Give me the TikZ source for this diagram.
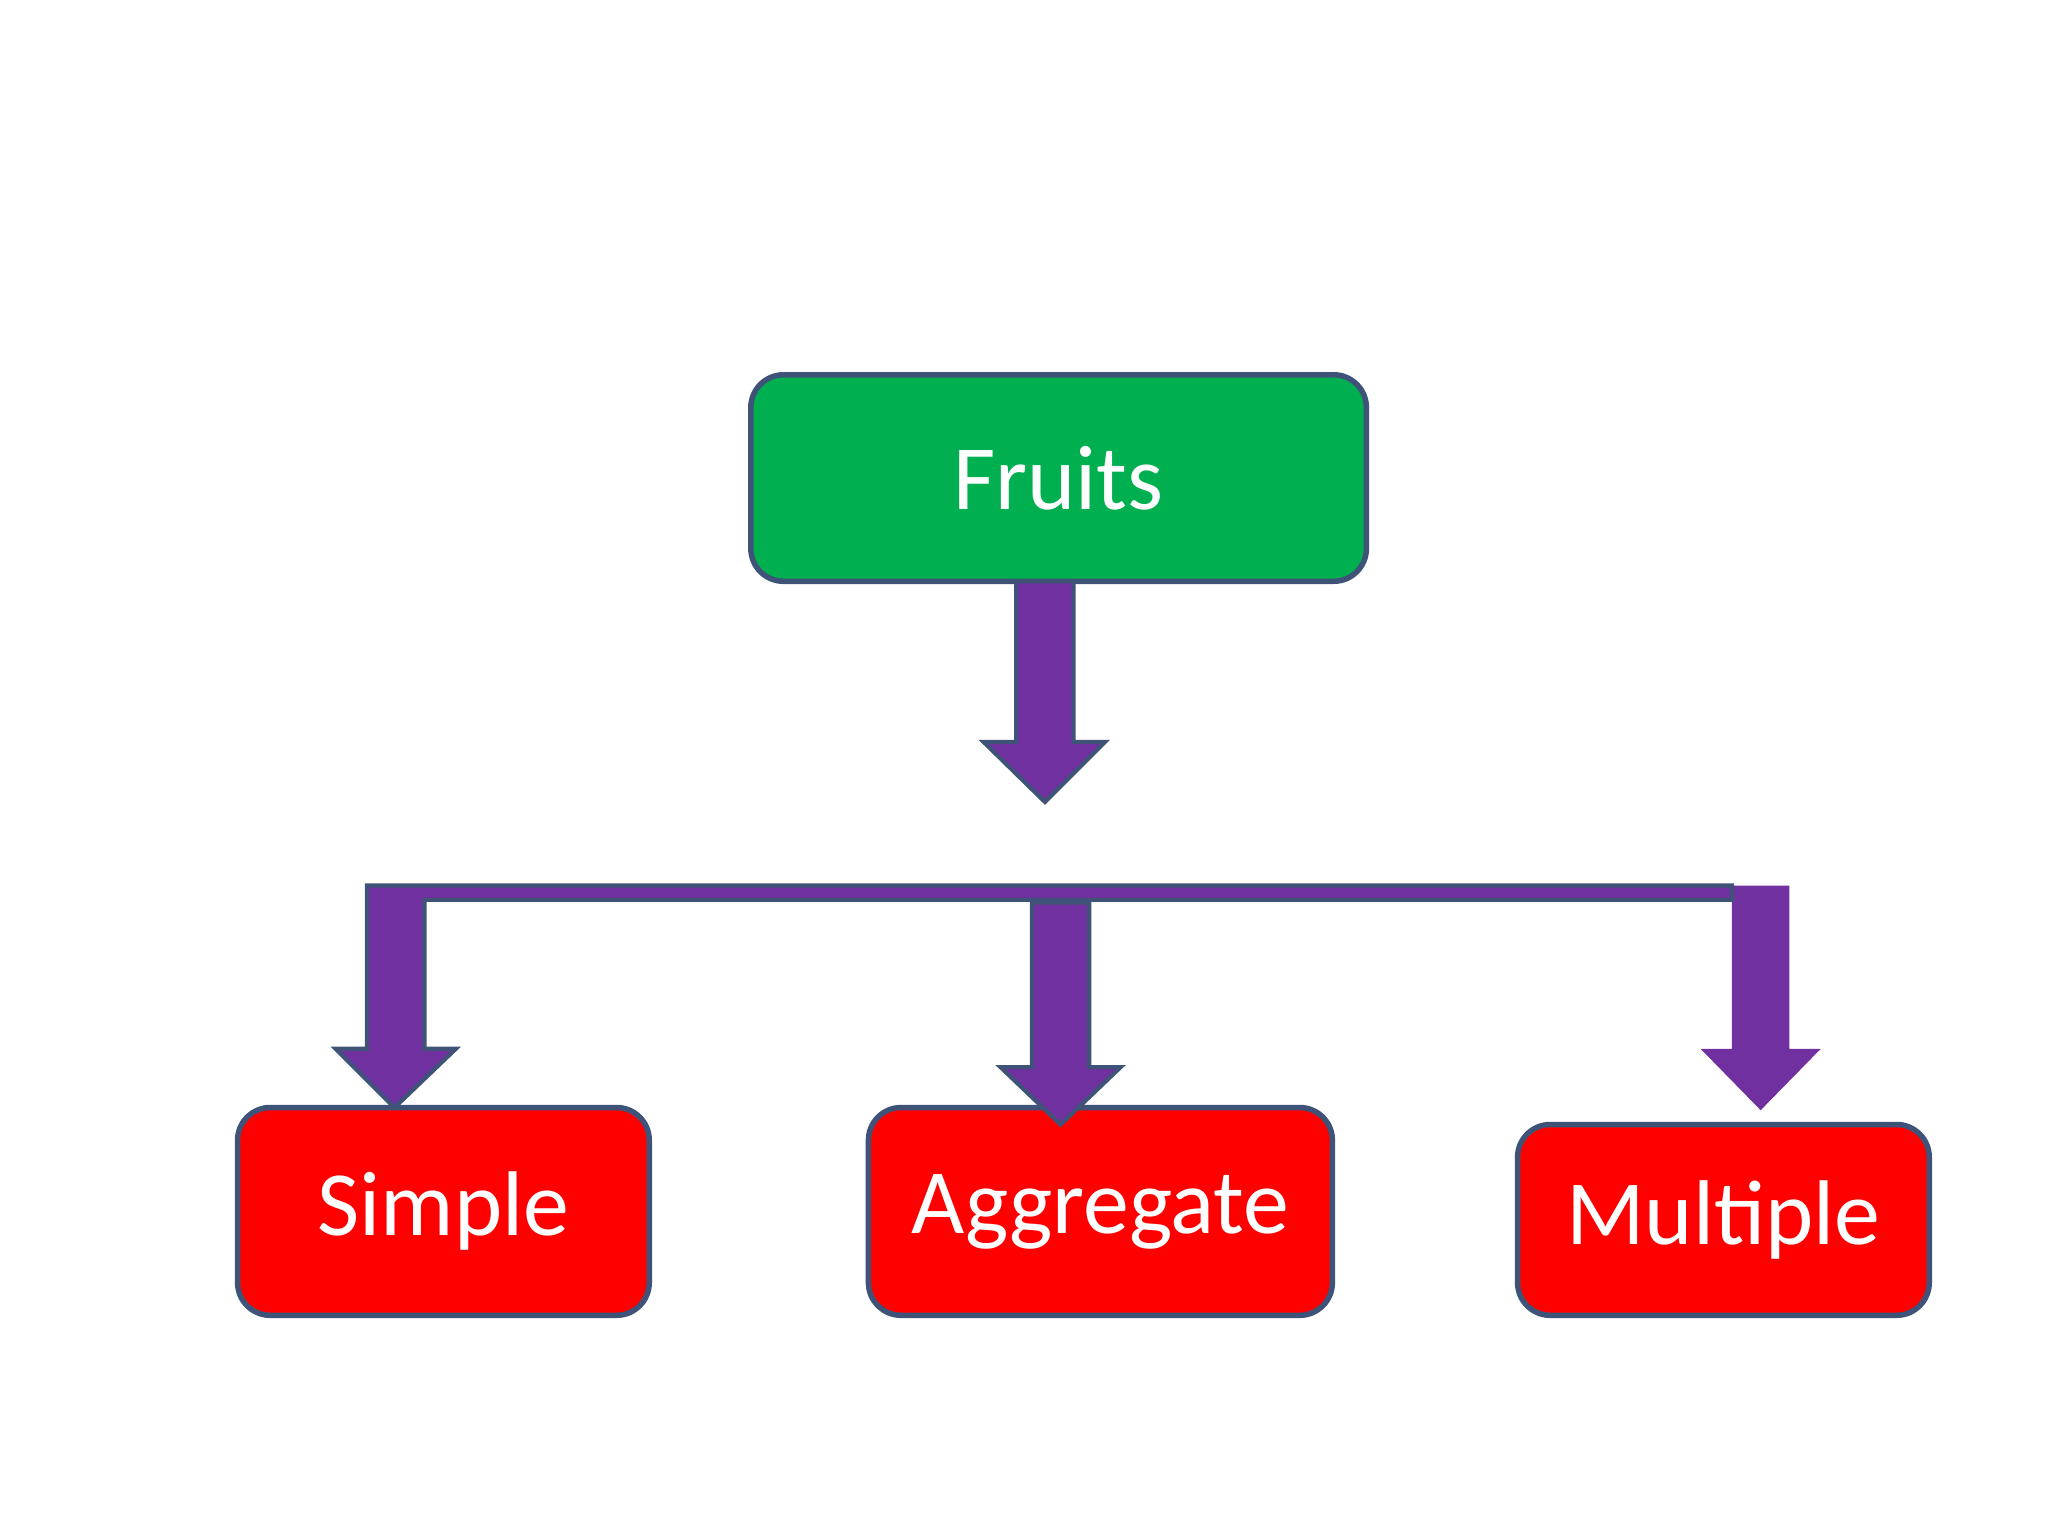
\documentclass[tikz,border=0pt]{standalone}
\usepackage{fontspec}
\setmainfont{Carlito}
\begin{document}
\begin{tikzpicture}[x=0.01cm,y=-0.01cm,
  box/.style={draw=bord,line width=1.2pt,rounded corners=0.25cm,text=white,font=\fontsize{20}{24}\selectfont,inner sep=0pt},
  arr/.style={fill=arrp,draw=bord,line width=0.9pt,line join=miter}]
\definecolor{bord}{HTML}{3F5378}
\definecolor{grn}{HTML}{00B050}
\definecolor{arrp}{HTML}{7030A0}
\useasboundingbox (0,0) rectangle (1568,1176);
\node[box,fill=grn,minimum width=4.71cm,minimum height=1.58cm] (fruits) at (810.5,366) {Fruits};
\node[box,fill=red,minimum width=3.15cm,minimum height=1.59cm] (simple) at (339.5,927.5) {Simple};
\node[box,fill=red,minimum width=3.55cm,minimum height=1.59cm] (aggr) at (842.5,927.5) {Aggregate};
\node[box,fill=red,minimum width=3.15cm,minimum height=1.46cm] (mult) at (1319.5,934) {Multiple};
% top arrow
\draw[arr] (778,445) -- (778,568) -- (753,568) -- (800,614) -- (846,568) -- (822,568) -- (822,445) -- cycle;
% right arrow (no outline)
\fill[arrp] (1326,678) -- (1326,803) -- (1302,803) -- (1348,850) -- (1394,803) -- (1370,803) -- (1370,678) -- cycle;
% left bent arrow
\draw[arr] (281,678) -- (281,803) -- (257,803) -- (302,848) -- (349,803) -- (325,803) -- (325,689) -- (1326,689) -- (1326,678) -- cycle;
% middle arrow
\draw[arr] (790,691) -- (790,817) -- (766,817) -- (812,861) -- (858,817) -- (834,817) -- (834,691) -- cycle;
\end{tikzpicture}
\end{document}
